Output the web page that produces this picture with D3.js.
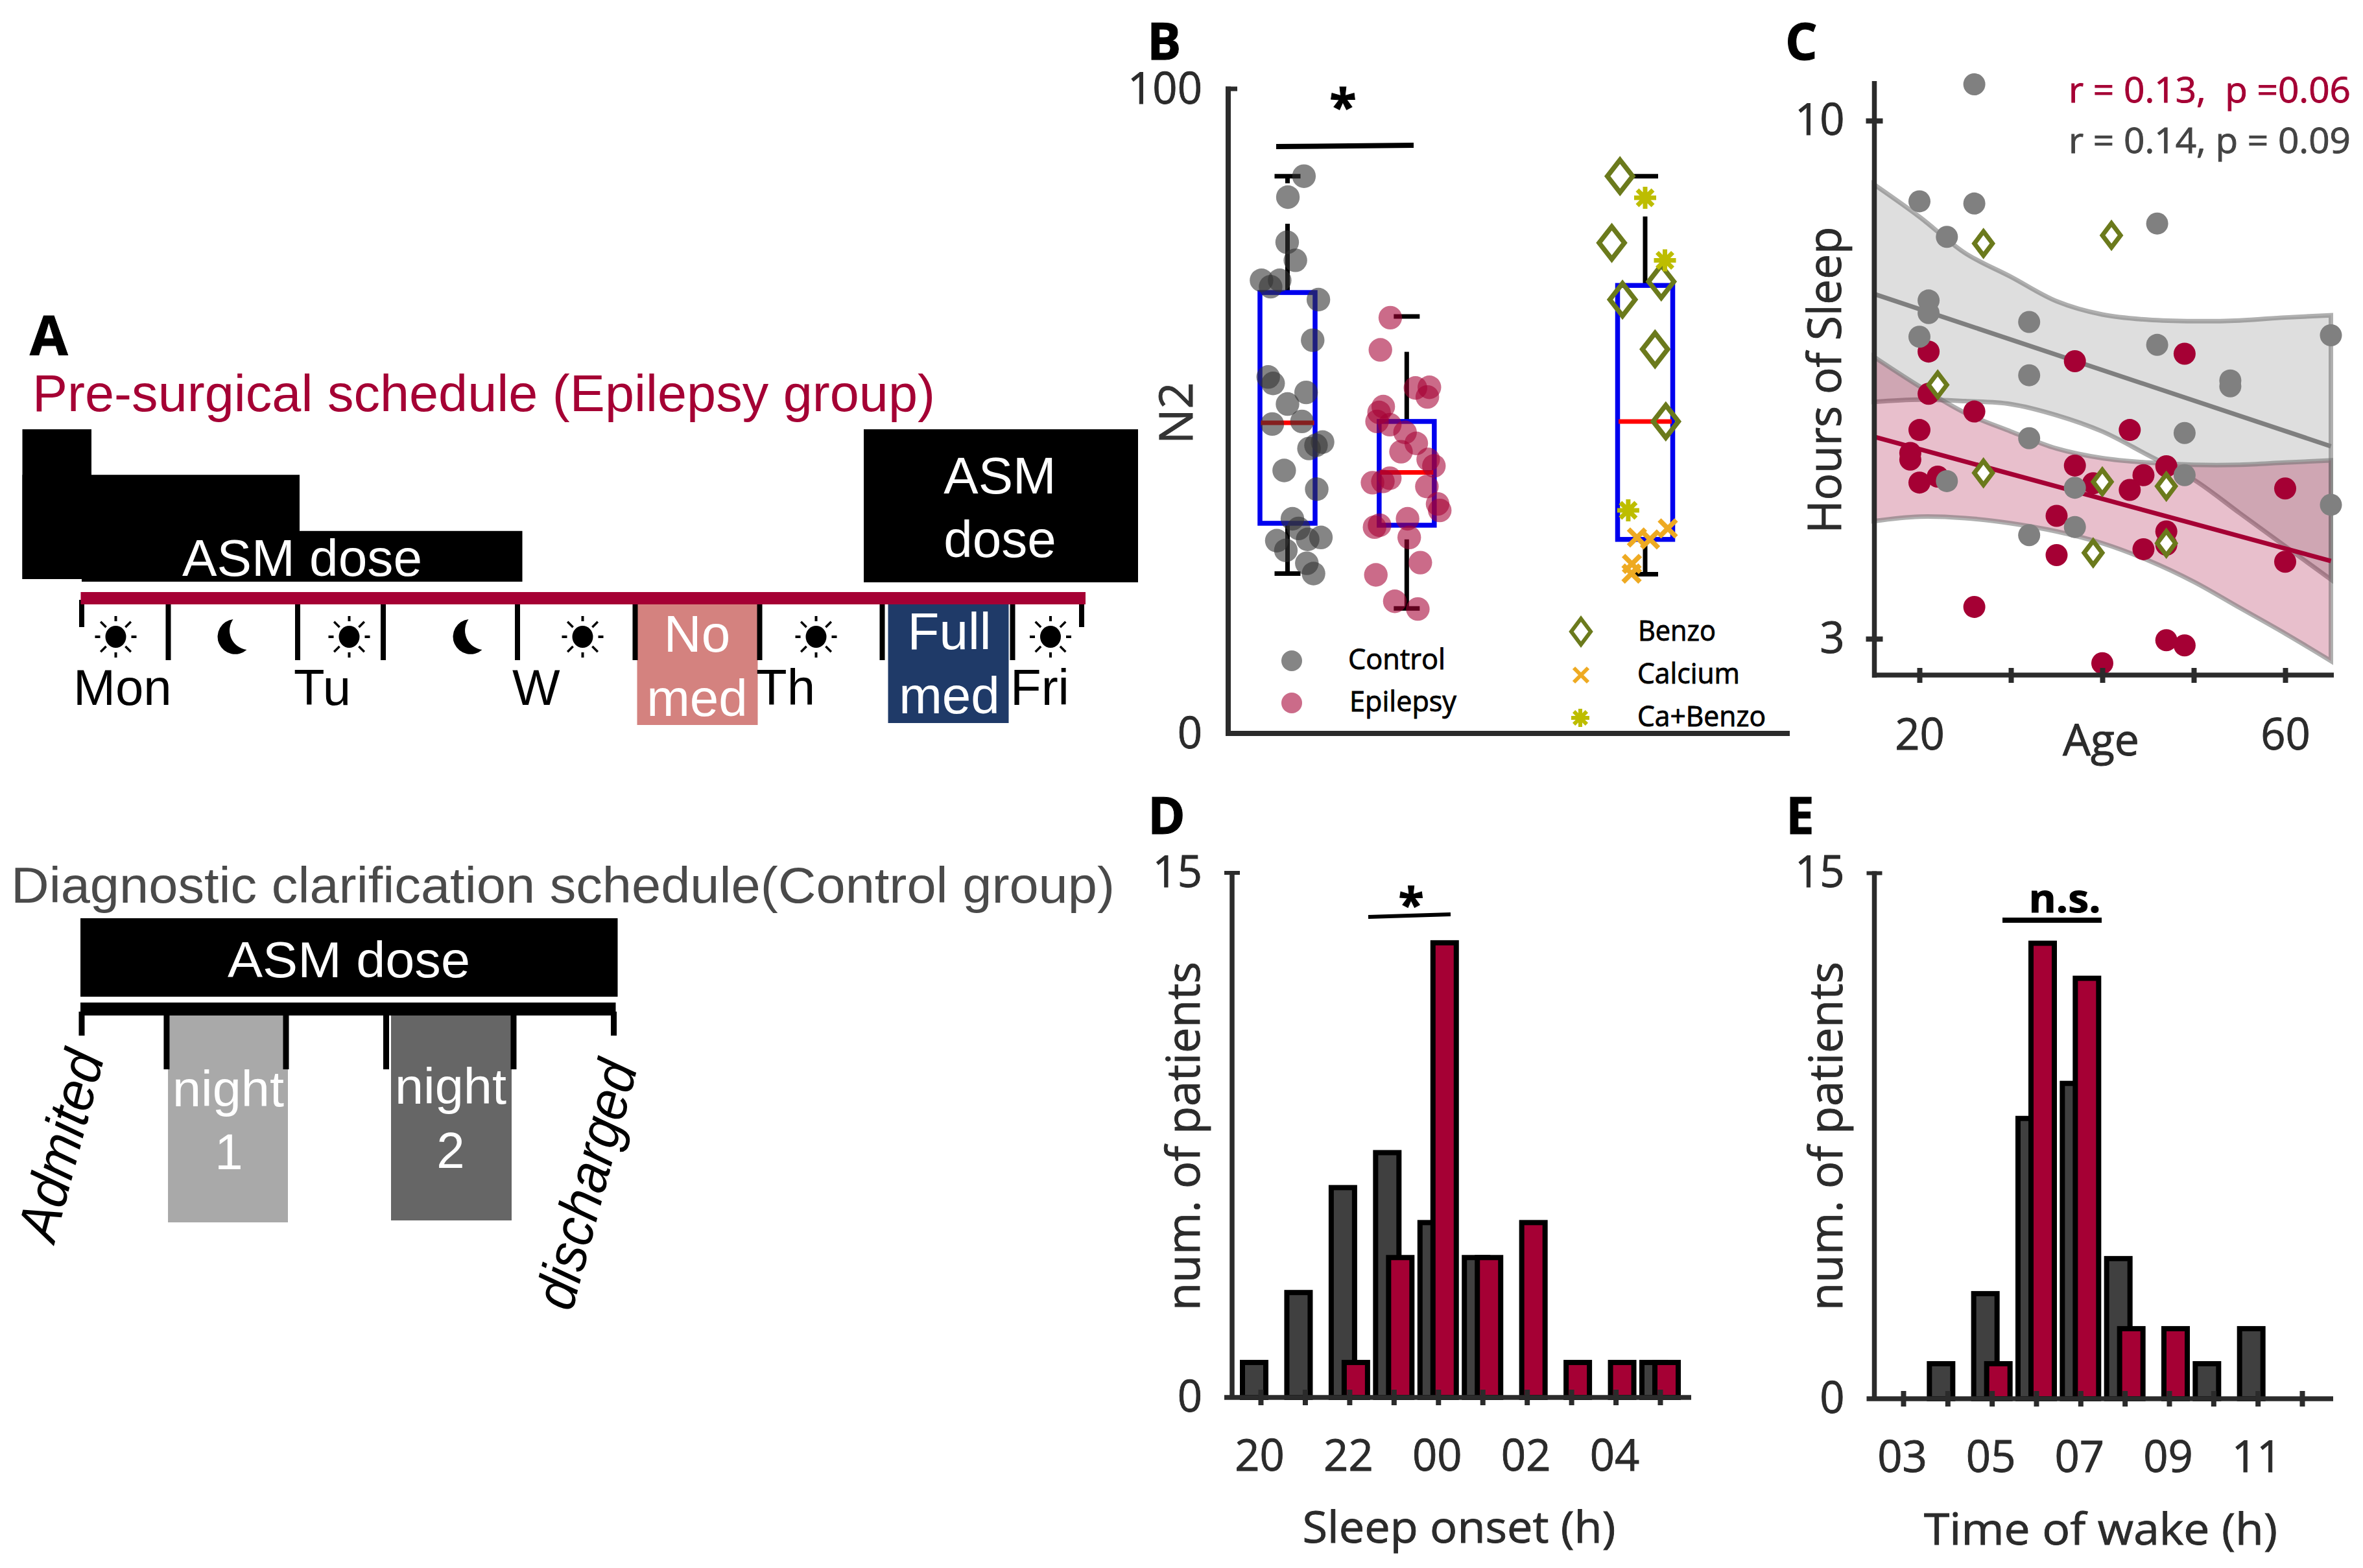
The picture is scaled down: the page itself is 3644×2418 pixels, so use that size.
<!DOCTYPE html>
<html><head><meta charset="utf-8">
<script src="https://cdn.jsdelivr.net/npm/d3@7/dist/d3.min.js"></script>
<style>html,body{margin:0;padding:0;background:#fff}svg{display:block}</style></head><body>
<svg id="c" width="3644" height="2418" xmlns="http://www.w3.org/2000/svg"></svg>
<script>
// ---------- DATA ----------
// Panel A (hours from admission)
const doseSteps = [[-6.1,1,100],[-6.1,22.4,70],[0,45.3,33]];
const doseFull = [80.4,108.6];
const preTicks = [0,8.9,22.2,31,44.8,56.9,69.7,82.3,95.7,102.8];
const preShortTicks = [0,102.8];
const sunHours = [3.5,27.5,51.5,75.5,99.6];
const moonHours = [15.3,39.5];
const dayNames = ["Mon","Tu","W","Th","Fri"];
const ctrlTicks = [0,8.73,21,31.3,44.4,54.7];
const ctrlShortTicks = [0,54.7];
// Panel B
const controlPos = [1.138,1.003,0.997,1.066,.782,.934,.858,1.259,1.211,.838,.879,1.156,1.0,.872,1.121,1.294,1.239,1.18,.972,1.245,1.041,1.093,1.28,.91,1.169,.986,1.162,1.218];
const controlN2 = [86.45,83.2,76.2,73.4,70.3,70.3,69.3,67.3,61.0,55.3,54.3,52.9,51.1,48.0,48.4,45.2,44.7,44.2,40.8,37.9,33.3,31.8,30.4,29.9,30.1,28.4,26.4,24.8];
const epilepsyPos = [1.862,1.779,2.073,2.19,2.173,1.803,1.768,1.751,1.858,1.986,2.08,1.952,2.18,2.228,1.713,1.8,1.858,2.169,2.259,2.277,2.007,1.73,1.772,2.021,2.114,1.741,1.9,2.093];
const epilepsyN2 = [64.5,59.5,53.6,53.7,52.2,50.7,49.8,48.4,47.9,46.7,45.0,43.7,42.5,41.5,38.9,39.1,39.6,38.3,35.6,34.6,33.3,32.0,32.3,30.4,26.5,24.6,20.5,19.3];
const benzoPos = [3.789,3.72,3.81,4.135,4.083,4.173];
const benzoN2 = [86.45,76.1,67.3,70.1,59.6,48.4];
const caBenzoPos = [4,4.166,3.858];
const caBenzoN2 = [83.1,73.4,34.6];
const calciumPos = [4.19,4.041,3.931,3.889,3.886];
const calciumN2 = [31.8,30.1,30.4,26.3,24.8];
// [position, cap low, whisker low end, q1, median, q3, whisker high end, nub start, cap high]
const boxStats = [
  [1,24.8,32.6,32.6,48.2,68.4,79.07,85.35,86.45],
  [2,19.4,30.1,32.3,40.5,48.4,59.2,64.7,64.7],
  [4,24.7,30.1,30.1,48.4,69.5,80.2,86.45,86.45]
];
// Panel C
const grayAges = [26,20,26,23,46,21,21,32,20,46,65,32,54,54,32,49,23,37,49,65,37,32];
const grayHours = [10.49,8.91,8.88,8.43,8.61,7.57,7.40,7.28,7.08,6.97,7.10,6.56,6.49,6.41,5.71,5.78,5.13,5.04,5.21,4.81,4.51,4.40];
const redAges = [21,49,37,21,26,20,43,19,19,20,22,37,47,44.5,39,43,60,35,47,47,44.5,35,60,26,47,49,40];
const redHours = [6.88,6.85,6.75,6.31,6.07,5.82,5.82,5.51,5.42,5.11,5.19,5.34,5.33,5.21,5.10,5.01,5.03,4.66,4.45,4.27,4.21,4.13,4.04,3.43,2.98,2.91,2.67];
const benzoAges = [27,41,22,27,40,47,39,47];
const benzoHours = [8.34,8.45,6.43,5.24,5.12,5.06,4.16,4.29];
const bandAges = [15,20,25,30,35,40,45,50,55,60,65];
const grayUpper = [9.14,8.70,8.21,7.89,7.56,7.38,7.31,7.29,7.30,7.34,7.37];
const grayLower = [6.20,6.23,6.21,6.17,6.02,5.80,5.48,5.15,4.70,4.25,3.80];
const redUpper = [6.81,6.41,6.05,5.80,5.57,5.44,5.38,5.35,5.35,5.38,5.41];
const redLower = [4.59,4.65,4.63,4.56,4.45,4.29,4.06,3.77,3.42,3.07,2.70];
const fitAges = [15,65];
const grayFit = [7.66,5.60];
const redFit = [5.73,4.05];
// Panel D
const onsetLabels = ["20","21","22","23","00","01","02","03","04","05"];
const onsetControl = [1,3,6,7,5,4,0,0,0,1];
const onsetEpilepsy = [0,0,1,4,13,4,5,1,1,1];
// Panel E
const wakeLabels = ["03","04","05","06","07","08","09","10","11","12"];
const wakeControl = [0,1,3,8,9,4,0,1,2,0];
const wakeEpilepsy = [0,0,1,13,12,2,2,0,0,0];

// ---------- HELPERS ----------
const svg = d3.select("#c");
const ARIAL = "'Liberation Sans',Arial,sans-serif", SANS = "'Open Sans',sans-serif";
const RED = "#a50034", OLIVE = "#6b7a1c", INK = "#2b2b2b";
function txt(x,y,s,o={}){
  const fill=o.fill||INK;
  const t = svg.append("text").attr("x",x).attr("y",y).text(s)
    .attr("font-family",o.family||SANS).attr("font-size",o.size||67)
    .attr("fill",fill).attr("text-anchor",o.anchor||"start");
  if(o.weight) t.attr("font-weight",o.weight);
  if(o.style) t.attr("font-style",o.style);
  if(o.len) t.attr("textLength",o.len).attr("lengthAdjust","spacingAndGlyphs");
  if(o.rot!==undefined) t.attr("transform",`rotate(${o.rot} ${x} ${y})`);
  if(!o.family) t.attr("stroke",fill).attr("stroke-width",o.weight?1:.9);
  return t;
}
const rect=(g,x0,x1,y0,y1,fill)=>g.append("rect").attr("x",x0).attr("y",y0).attr("width",x1-x0).attr("height",y1-y0).attr("fill",fill);
const line=(g,x1,y1,x2,y2,c,w)=>g.append("line").attr("x1",x1).attr("y1",y1).attr("x2",x2).attr("y2",y2).attr("stroke",c).attr("stroke-width",w);
const diamond=(w,h)=>`M0,${-h}L${w},0L0,${h}L${-w},0Z`;
const times=r=>`M${-r},${-r}L${r},${r}M${-r},${r}L${r},${-r}`;
const star=r=>{const d=r*.707;return `M${-r},0L${r},0M0,${-r}L0,${r}M${-d},${-d}L${d},${d}M${-d},${d}L${d},${-d}`;};
function styleAxis(g,size){
  g.select(".domain").remove();
  g.selectAll("text").attr("font-family",SANS).attr("font-size",size).attr("fill",INK).attr("stroke",INK).attr("stroke-width",.9);
}

// ---------- PANEL A ----------
const xA = d3.scaleLinear().domain([0,103]).range([126,1671]);
const yDose = d3.scaleLinear().domain([0,100]).range([896,662]);
const A = svg.append("g");
doseSteps.forEach(d=>rect(A,xA(d[0]),xA(d[1]),yDose(d[2]),d[0]<0?893:897,"#000"));
rect(A,xA(doseFull[0]),xA(doseFull[1]),yDose(100),898,"#000");
rect(A,xA(57.1),xA(69.5),932,1118,"#d4827f");
rect(A,xA(82.9),xA(95.3),932,1115,"#1f3a68");
preTicks.forEach(h=>line(A,xA(h),925,xA(h),preShortTicks.includes(h)?967:1018,"#000",8));
rect(A,xA(-0.1),xA(103.2),913,932,RED);
sunHours.forEach(h=>{
  const g=A.append("g").attr("transform",`translate(${xA(h)},982)`);
  g.append("ellipse").attr("rx",16).attr("ry",17).attr("fill","#000");
  d3.range(8).forEach(i=>{
    const a=i*Math.PI/4, r0=(i%2)?21:24, r1=(i%2)?33:32;
    line(g,r0*Math.cos(a),r0*Math.sin(a),r1*Math.cos(a),r1*Math.sin(a),"#000",(i%2)?3.5:4);
  });
});
moonHours.forEach(h=>{
  A.append("path").attr("transform",`translate(${xA(h)},982)`)
   .attr("d","M4,-27A27,27 0 1 0 25,20A30,30 0 0 1 4,-27Z").attr("fill","#000");
});
txt(46,547,"A",{weight:700,size:85,fill:"#000"});
txt(50,634,"Pre-surgical schedule (Epilepsy group)",{family:ARIAL,size:80,fill:RED,len:1392});
txt(466,888,"ASM dose",{family:ARIAL,size:80,fill:"#fff",anchor:"middle",len:370});
txt(1542,761,"ASM",{family:ARIAL,size:80,fill:"#fff",anchor:"middle"});
txt(1542,859,"dose",{family:ARIAL,size:80,fill:"#fff",anchor:"middle"});
txt(1075,1005,"No",{family:ARIAL,size:80,fill:"#fff",anchor:"middle"});
txt(1075,1104,"med",{family:ARIAL,size:80,fill:"#fff",anchor:"middle"});
txt(1464,1001,"Full",{family:ARIAL,size:80,fill:"#fff",anchor:"middle"});
txt(1464,1100,"med",{family:ARIAL,size:80,fill:"#fff",anchor:"middle"});
[113,453,790,1166,1558].forEach((x,i)=>txt(x,1087,dayNames[i],{family:ARIAL,size:78,fill:"#000"}));

txt(17,1392,"Diagnostic clarification schedule(Control group)",{family:ARIAL,size:78,fill:"#4a4a4a",len:1702});
rect(A,xA(-0.13),xA(55.1),1416,1537,"#000");
txt(538,1507,"ASM dose",{family:ARIAL,size:78,fill:"#fff",anchor:"middle",len:374});
rect(A,xA(8.87),xA(21.2),1566,1885,"#a9a9a9");
rect(A,xA(31.8),xA(44.2),1566,1882,"#666666");
ctrlTicks.forEach(h=>line(A,xA(h),1560,xA(h),ctrlShortTicks.includes(h)?1597:1649,"#000",9));
rect(A,xA(-0.13),xA(54.9),1546,1566,"#000");
txt(352,1706,"night",{family:ARIAL,size:78,fill:"#fff",anchor:"middle",len:172});
txt(353,1803,"1",{family:ARIAL,size:78,fill:"#fff",anchor:"middle"});
txt(695,1702,"night",{family:ARIAL,size:78,fill:"#fff",anchor:"middle",len:172});
txt(695,1801,"2",{family:ARIAL,size:78,fill:"#fff",anchor:"middle"});
txt(84,1918,"Admited",{family:ARIAL,size:88,fill:"#000",style:"italic",rot:-75,len:298});
txt(882,2024,"discharged",{family:ARIAL,size:88,fill:"#000",style:"italic",rot:-75,len:392});

// ---------- PANEL B ----------
const xB = d3.scaleLinear().domain([1,4]).range([1985.5,2537]);
const yB = d3.scaleLinear().domain([0,100]).range([1131,137]);
txt(1769,92,"B",{weight:700,size:78,fill:"#000"});
const B = svg.append("g");
line(B,1894,133.5,1894,1135,INK,8);
line(B,1890,1131,2760,1131,INK,8);
line(B,1890,137,1908,137,INK,7);
const bAxis = B.append("g").attr("transform","translate(1894,0)").call(d3.axisLeft(yB).tickValues([0,100]).tickSize(0).tickPadding(40));
styleAxis(bAxis,67);
bAxis.selectAll("text").attr("y",1);
txt(1839,637,"N2",{size:72,anchor:"middle",rot:-90,fill:"#333"});
boxStats.forEach(b=>{
  const [p,cl,wl,q1,m,q3,wh,nub,ch]=b, x=xB(p);
  line(B,x,yB(wh),x,yB(q3),"#000",7);
  line(B,x,yB(wl),x,yB(cl),"#000",7);
  line(B,x,yB(nub),x,yB(ch),"#000",7);
  line(B,x-20,yB(ch),x+20,yB(ch),"#000",7);
  line(B,x-20,yB(cl),x+20,yB(cl),"#000",7);
  B.append("rect").attr("x",x-42.5).attr("width",85).attr("y",yB(q3)).attr("height",yB(q1)-yB(q3))
   .attr("fill","none").attr("stroke","#0000ee").attr("stroke-width",7.5);
  line(B,x-41,yB(m),x+41,yB(m),"#ff0000",7);
});
B.selectAll(".c").data(controlN2).join("circle").attr("cx",(d,i)=>xB(controlPos[i])).attr("cy",d=>yB(d)).attr("r",18.2).attr("fill","#333").attr("fill-opacity",.6);
B.selectAll(".e").data(epilepsyN2).enter().append("circle").attr("cx",(d,i)=>xB(epilepsyPos[i])).attr("cy",d=>yB(d)).attr("r",18.2).attr("fill",RED).attr("fill-opacity",.58);
B.selectAll(".b").data(benzoN2).enter().append("path").attr("d",diamond(19.5,25))
 .attr("transform",(d,i)=>`translate(${xB(benzoPos[i])},${yB(d)})`).attr("fill","none").attr("stroke",OLIVE).attr("stroke-width",7.5);
B.selectAll(".s").data(caBenzoN2).enter().append("path").attr("d",star(17))
 .attr("transform",(d,i)=>`translate(${xB(caBenzoPos[i])},${yB(d)})`).attr("fill","none").attr("stroke","#bdbd00").attr("stroke-width",7);
B.selectAll(".x").data(calciumN2).enter().append("path").attr("d",times(13))
 .attr("transform",(d,i)=>`translate(${xB(calciumPos[i])},${yB(d)})`).attr("fill","none").attr("stroke","#eeaa22").attr("stroke-width",7.5);
line(B,1968,226,2180,224,"#000",8);
txt(2071,191,"*",{weight:700,size:76,anchor:"middle",fill:"#000"});
// legend
B.append("circle").attr("cx",1992).attr("cy",1019).attr("r",16).attr("fill","#333").attr("fill-opacity",.6);
B.append("circle").attr("cx",1992).attr("cy",1084).attr("r",16).attr("fill",RED).attr("fill-opacity",.58);
txt(2079,1032,"Control",{size:44,fill:"#000",len:150});
txt(2081,1097,"Epilepsy",{size:44,fill:"#000",len:165});
B.append("path").attr("d",diamond(15,20)).attr("transform","translate(2438,974)").attr("fill","none").attr("stroke",OLIVE).attr("stroke-width",6);
B.append("path").attr("d",times(11)).attr("transform","translate(2438,1041)").attr("fill","none").attr("stroke","#eeaa22").attr("stroke-width",6);
B.append("path").attr("d",star(14)).attr("transform","translate(2437,1107)").attr("fill","none").attr("stroke","#bdbd00").attr("stroke-width",6);
txt(2526,988,"Benzo",{size:44,fill:"#000",len:120});
txt(2525,1054,"Calcium",{size:44,fill:"#000",len:158});
txt(2525,1120,"Ca+Benzo",{size:44,fill:"#000",len:198});

// ---------- PANEL C ----------
const xC = d3.scaleLinear().domain([20,60]).range([2960,3524]);
const yC = d3.scaleLinear().domain([3,10]).range([985,186]);
txt(2753,92,"C",{weight:700,size:78,fill:"#000"});
const C = svg.append("g");
const bandArea = d3.area().x(d=>xC(d[0])).y0(d=>yC(d[1])).y1(d=>yC(d[2])).curve(d3.curveCatmullRom);
const bandOutline = (up,lo)=>bandArea(bandAges.map((a,i)=>[a,lo[i],up[i]]));
[[grayUpper,grayLower,"#808080",.26],[redUpper,redLower,RED,.25]].forEach(([u,l,c,o])=>{
  C.append("path").attr("d",bandOutline(u,l)).attr("fill",c).attr("fill-opacity",o)
   .attr("stroke","#707070").attr("stroke-opacity",.55).attr("stroke-width",7);
});
const fit=d3.line().x(d=>xC(d[0])).y(d=>yC(d[1]));
C.append("path").attr("d",fit(fitAges.map((a,i)=>[a,grayFit[i]]))).attr("fill","none").attr("stroke","#7f7f7f").attr("stroke-width",7);
C.append("path").attr("d",fit(fitAges.map((a,i)=>[a,redFit[i]]))).attr("fill","none").attr("stroke",RED).attr("stroke-width",7);
C.selectAll(".r").data(redHours).enter().append("circle").attr("cx",(d,i)=>xC(redAges[i])).attr("cy",d=>yC(d)).attr("r",17).attr("fill",RED);
C.selectAll(".g").data(grayHours).enter().append("circle").attr("cx",(d,i)=>xC(grayAges[i])).attr("cy",d=>yC(d)).attr("r",17).attr("fill","#808080");
C.selectAll(".d").data(benzoHours).enter().append("path").attr("d",diamond(14,18.5))
 .attr("transform",(d,i)=>`translate(${xC(benzoAges[i])},${yC(d)})`).attr("fill","#fff").attr("stroke",OLIVE).attr("stroke-width",7);
line(C,2890.5,125,2890.5,1045,INK,7.5);
line(C,2887,1041,3599,1041,INK,7.5);
const cxA = C.append("g").attr("transform","translate(0,1041)").call(d3.axisBottom(xC).tickValues([20,30,40,50,60]).tickSize(0).tickPadding(67).tickFormat(d=>(d===20||d===60)?d:""));
styleAxis(cxA,67);
cxA.selectAll("line").attr("y1",-11).attr("y2",12).attr("stroke",INK).attr("stroke-width",8);
const cyA = C.append("g").attr("transform","translate(2890.5,0)").call(d3.axisLeft(yC).tickValues([3,10]).tickSize(0).tickPadding(46).tickFormat(d3.format("d")));
styleAxis(cyA,67);
cyA.selectAll("line").attr("x1",-13).attr("x2",13).attr("stroke",INK).attr("stroke-width",8);
txt(3240,1165,"Age",{size:68,anchor:"middle",len:118});
txt(2839,586,"Hours of Sleep",{size:72,anchor:"middle",rot:-90,len:473});
txt(3190,158,"r = 0.13,  p =0.06",{size:54,fill:RED,len:435}).style("white-space","pre");
txt(3190,236,"r = 0.14, p = 0.09",{size:54,fill:"#444",len:435});

// ---------- PANELS D, E ----------
function hist(o){
  const x = d3.scaleLinear().domain([0,9]).range(o.x);
  const y = d3.scaleLinear().domain([0,15]).range(o.y);
  const g = svg.append("g");
  const bars=(vals,off,fill)=>g.selectAll(null).data(vals.map((v,i)=>[i,v]).filter(d=>d[1]>0)).enter().append("rect")
    .attr("x",d=>x(d[0])+off-18).attr("width",36).attr("y",d=>y(d[1])).attr("height",d=>y(0)-y(d[1]))
    .attr("fill",fill).attr("stroke","#000").attr("stroke-width",8);
  bars(o.control,-10,"#404040");
  bars(o.epilepsy,10,RED);
  line(g,o.axisX,o.y[1]-3,o.axisX,o.y[0]+3,INK,7.5);
  line(g,o.axisX-12,o.y[1],o.axisX+12,o.y[1],INK,6);
  line(g,o.axisX-12,o.y[0],o.xEnd,o.y[0],INK,7.5);
  const ax=g.append("g").attr("transform",`translate(0,${o.y[0]})`)
    .call(d3.axisBottom(x).tickValues(d3.range(10)).tickSize(0).tickPadding(65).tickFormat((d,i)=>i%2===0?o.labels[i]:""));
  styleAxis(ax,67);
  ax.selectAll("text").attr("dx",-2);
  ax.selectAll("line").attr("y1",-12).attr("y2",12).attr("stroke",INK).attr("stroke-width",8);
  const ay=g.append("g").attr("transform",`translate(${o.axisX},0)`).call(d3.axisLeft(y).tickValues([0,15]).tickSize(0).tickPadding(46));
  styleAxis(ay,67);
  txt(o.ylabX,1752,"num. of patients",{size:72,anchor:"middle",rot:-90,len:538});
}
txt(1770,1286,"D",{weight:700,size:78,fill:"#000"});
hist({x:[1944,2560],y:[2155,1346],axisX:1900,xEnd:2608,control:onsetControl,epilepsy:onsetEpilepsy,labels:onsetLabels,ylabX:1850});
txt(2250,2379,"Sleep onset (h)",{size:68,anchor:"middle",len:483});
line(svg,2110,1414,2237,1410,"#000",6);
txt(2176,1421,"*",{weight:700,size:72,anchor:"middle",fill:"#000"});
txt(2754,1286,"E",{weight:700,size:78,fill:"#000"});
hist({x:[2935,3550],y:[2157,1346.5],axisX:2890.5,xEnd:3598,control:wakeControl,epilepsy:wakeEpilepsy,labels:wakeLabels,ylabX:2840.5});
txt(3239.5,2382,"Time of wake (h)",{size:68,anchor:"middle",len:545});
line(svg,3088,1419,3241,1419,"#000",8);
txt(3184,1407,"n.s.",{weight:700,size:60,anchor:"middle",fill:"#000",len:111});
</script>
</body></html>
